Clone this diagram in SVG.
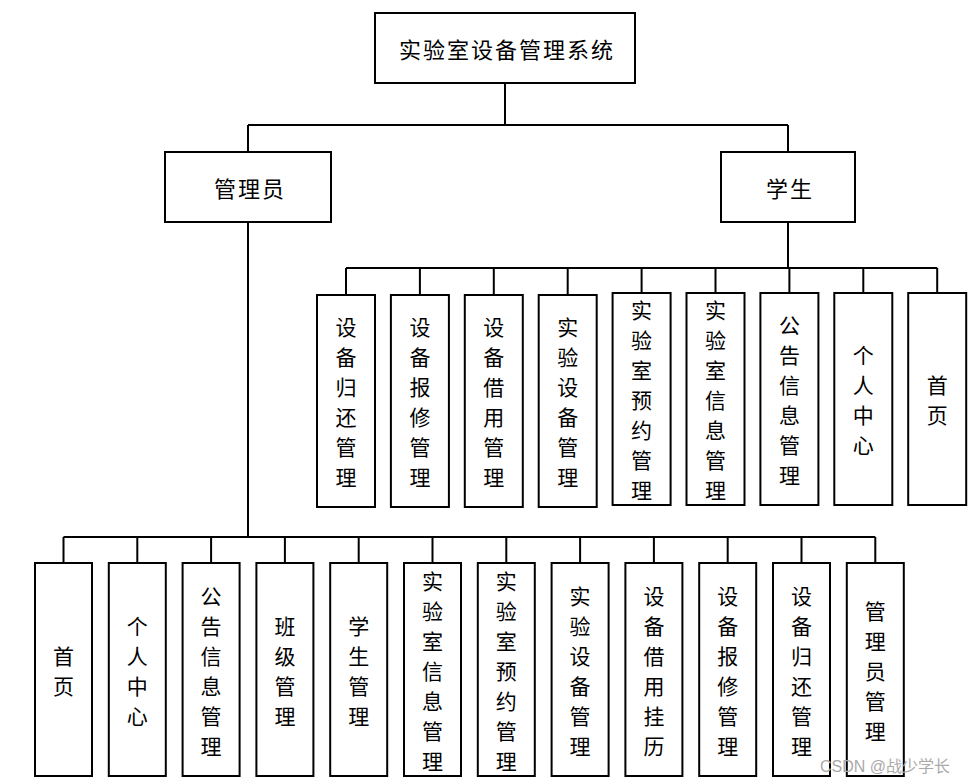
<svg xmlns="http://www.w3.org/2000/svg" width="972" height="783" viewBox="0 0 972 783">
<style>
.box{fill:#fff;stroke:#000;stroke-width:2}
.ln{stroke:#000;stroke-width:2;fill:none}
.t{font-family:"Noto Sans CJK SC","Noto Sans CJK JP",sans-serif;font-size:21px;fill:#000;text-anchor:middle;dominant-baseline:central}
.th{font-size:22px;letter-spacing:2px}
.wm{font-family:"Liberation Sans","Noto Sans CJK SC",sans-serif;font-size:16px;fill:#aaa}
</style>
<rect width="972" height="783" fill="#fff"/>
<g id="connectors">
<path class="ln" d="M505,83V125M248,125H788M248,125V152M788,125V152"/>
<path class="ln" d="M788,222V268M346,268H937.2M346,268V295M419.9,268V295M493.8,268V295M567.7,268V295M641.6,268V293M715.5,268V293M789.4,268V293M863.3,268V293M937.2,268V293"/>
<path class="ln" d="M248,222V537M63.5,537H875.3M63.5,537V563M137.3,537V563M211.1,537V563M284.9,537V563M358.7,537V563M432.5,537V563M506.3,537V563M580.1,537V563M653.9,537V563M727.7,537V563M801.5,537V563M875.3,537V563"/>
</g>
<g id="root"><rect class="box" x="375" y="13" width="260" height="70"/><text class="t th" x="507" y="48">实验室设备管理系统</text></g>
<g id="admin"><rect class="box" x="165" y="152" width="166" height="70"/><text class="t th" x="250" y="187">管理员</text></g>
<g id="student"><rect class="box" x="721" y="152" width="134" height="70"/><text class="t th" x="790" y="187">学生</text></g>

<g id="s1"><rect class="box" x="317" y="295" width="58" height="212"/><text class="t"><tspan x="346" y="326">设</tspan><tspan x="346" y="356">备</tspan><tspan x="346" y="386">归</tspan><tspan x="346" y="416">还</tspan><tspan x="346" y="446">管</tspan><tspan x="346" y="476">理</tspan></text></g>
<g id="s2"><rect class="box" x="390.9" y="295" width="58" height="212"/><text class="t"><tspan x="419.9" y="326">设</tspan><tspan x="419.9" y="356">备</tspan><tspan x="419.9" y="386">报</tspan><tspan x="419.9" y="416">修</tspan><tspan x="419.9" y="446">管</tspan><tspan x="419.9" y="476">理</tspan></text></g>
<g id="s3"><rect class="box" x="464.8" y="295" width="58" height="212"/><text class="t"><tspan x="493.8" y="326">设</tspan><tspan x="493.8" y="356">备</tspan><tspan x="493.8" y="386">借</tspan><tspan x="493.8" y="416">用</tspan><tspan x="493.8" y="446">管</tspan><tspan x="493.8" y="476">理</tspan></text></g>
<g id="s4"><rect class="box" x="538.7" y="295" width="58" height="212"/><text class="t"><tspan x="567.7" y="326">实</tspan><tspan x="567.7" y="356">验</tspan><tspan x="567.7" y="386">设</tspan><tspan x="567.7" y="416">备</tspan><tspan x="567.7" y="446">管</tspan><tspan x="567.7" y="476">理</tspan></text></g>
<g id="s5"><rect class="box" x="612.6" y="293" width="58" height="212"/><text class="t"><tspan x="641.6" y="309">实</tspan><tspan x="641.6" y="339">验</tspan><tspan x="641.6" y="369">室</tspan><tspan x="641.6" y="399">预</tspan><tspan x="641.6" y="429">约</tspan><tspan x="641.6" y="459">管</tspan><tspan x="641.6" y="489">理</tspan></text></g>
<g id="s6"><rect class="box" x="686.5" y="293" width="58" height="212"/><text class="t"><tspan x="715.5" y="309">实</tspan><tspan x="715.5" y="339">验</tspan><tspan x="715.5" y="369">室</tspan><tspan x="715.5" y="399">信</tspan><tspan x="715.5" y="429">息</tspan><tspan x="715.5" y="459">管</tspan><tspan x="715.5" y="489">理</tspan></text></g>
<g id="s7"><rect class="box" x="760.4" y="293" width="58" height="212"/><text class="t"><tspan x="789.4" y="324">公</tspan><tspan x="789.4" y="354">告</tspan><tspan x="789.4" y="384">信</tspan><tspan x="789.4" y="414">息</tspan><tspan x="789.4" y="444">管</tspan><tspan x="789.4" y="474">理</tspan></text></g>
<g id="s8"><rect class="box" x="834.3" y="293" width="58" height="212"/><text class="t"><tspan x="863.3" y="354">个</tspan><tspan x="863.3" y="384">人</tspan><tspan x="863.3" y="414">中</tspan><tspan x="863.3" y="444">心</tspan></text></g>
<g id="s9"><rect class="box" x="908.2" y="293" width="58" height="212"/><text class="t"><tspan x="937.2" y="384">首</tspan><tspan x="937.2" y="414">页</tspan></text></g>

<g id="a1"><rect class="box" x="35" y="563" width="57" height="213"/><text class="t"><tspan x="63.5" y="655">首</tspan><tspan x="63.5" y="685">页</tspan></text></g>
<g id="a2"><rect class="box" x="108.8" y="563" width="57" height="213"/><text class="t"><tspan x="137.3" y="625">个</tspan><tspan x="137.3" y="655">人</tspan><tspan x="137.3" y="685">中</tspan><tspan x="137.3" y="715">心</tspan></text></g>
<g id="a3"><rect class="box" x="182.6" y="563" width="57" height="213"/><text class="t"><tspan x="211.1" y="595">公</tspan><tspan x="211.1" y="625">告</tspan><tspan x="211.1" y="655">信</tspan><tspan x="211.1" y="685">息</tspan><tspan x="211.1" y="715">管</tspan><tspan x="211.1" y="745">理</tspan></text></g>
<g id="a4"><rect class="box" x="256.4" y="563" width="57" height="213"/><text class="t"><tspan x="284.9" y="625">班</tspan><tspan x="284.9" y="655">级</tspan><tspan x="284.9" y="685">管</tspan><tspan x="284.9" y="715">理</tspan></text></g>
<g id="a5"><rect class="box" x="330.2" y="563" width="57" height="213"/><text class="t"><tspan x="358.7" y="625">学</tspan><tspan x="358.7" y="655">生</tspan><tspan x="358.7" y="685">管</tspan><tspan x="358.7" y="715">理</tspan></text></g>
<g id="a6"><rect class="box" x="404" y="563" width="57" height="213"/><text class="t"><tspan x="432.5" y="580">实</tspan><tspan x="432.5" y="610">验</tspan><tspan x="432.5" y="640">室</tspan><tspan x="432.5" y="670">信</tspan><tspan x="432.5" y="700">息</tspan><tspan x="432.5" y="730">管</tspan><tspan x="432.5" y="760">理</tspan></text></g>
<g id="a7"><rect class="box" x="477.8" y="563" width="57" height="213"/><text class="t"><tspan x="506.3" y="580">实</tspan><tspan x="506.3" y="610">验</tspan><tspan x="506.3" y="640">室</tspan><tspan x="506.3" y="670">预</tspan><tspan x="506.3" y="700">约</tspan><tspan x="506.3" y="730">管</tspan><tspan x="506.3" y="760">理</tspan></text></g>
<g id="a8"><rect class="box" x="551.6" y="563" width="57" height="213"/><text class="t"><tspan x="580.1" y="595">实</tspan><tspan x="580.1" y="625">验</tspan><tspan x="580.1" y="655">设</tspan><tspan x="580.1" y="685">备</tspan><tspan x="580.1" y="715">管</tspan><tspan x="580.1" y="745">理</tspan></text></g>
<g id="a9"><rect class="box" x="625.4" y="563" width="57" height="213"/><text class="t"><tspan x="653.9" y="595">设</tspan><tspan x="653.9" y="625">备</tspan><tspan x="653.9" y="655">借</tspan><tspan x="653.9" y="685">用</tspan><tspan x="653.9" y="715">挂</tspan><tspan x="653.9" y="745">历</tspan></text></g>
<g id="a10"><rect class="box" x="699.2" y="563" width="57" height="213"/><text class="t"><tspan x="727.7" y="595">设</tspan><tspan x="727.7" y="625">备</tspan><tspan x="727.7" y="655">报</tspan><tspan x="727.7" y="685">修</tspan><tspan x="727.7" y="715">管</tspan><tspan x="727.7" y="745">理</tspan></text></g>
<g id="a11"><rect class="box" x="773" y="563" width="57" height="213"/><text class="t"><tspan x="801.5" y="595">设</tspan><tspan x="801.5" y="625">备</tspan><tspan x="801.5" y="655">归</tspan><tspan x="801.5" y="685">还</tspan><tspan x="801.5" y="715">管</tspan><tspan x="801.5" y="745">理</tspan></text></g>
<g id="a12"><rect class="box" x="846.8" y="563" width="57" height="213"/><text class="t"><tspan x="875.3" y="610">管</tspan><tspan x="875.3" y="640">理</tspan><tspan x="875.3" y="670">员</tspan><tspan x="875.3" y="700">管</tspan><tspan x="875.3" y="730">理</tspan></text></g>

<text class="wm" x="820" y="772">CSDN @战少学长</text>
</svg>
